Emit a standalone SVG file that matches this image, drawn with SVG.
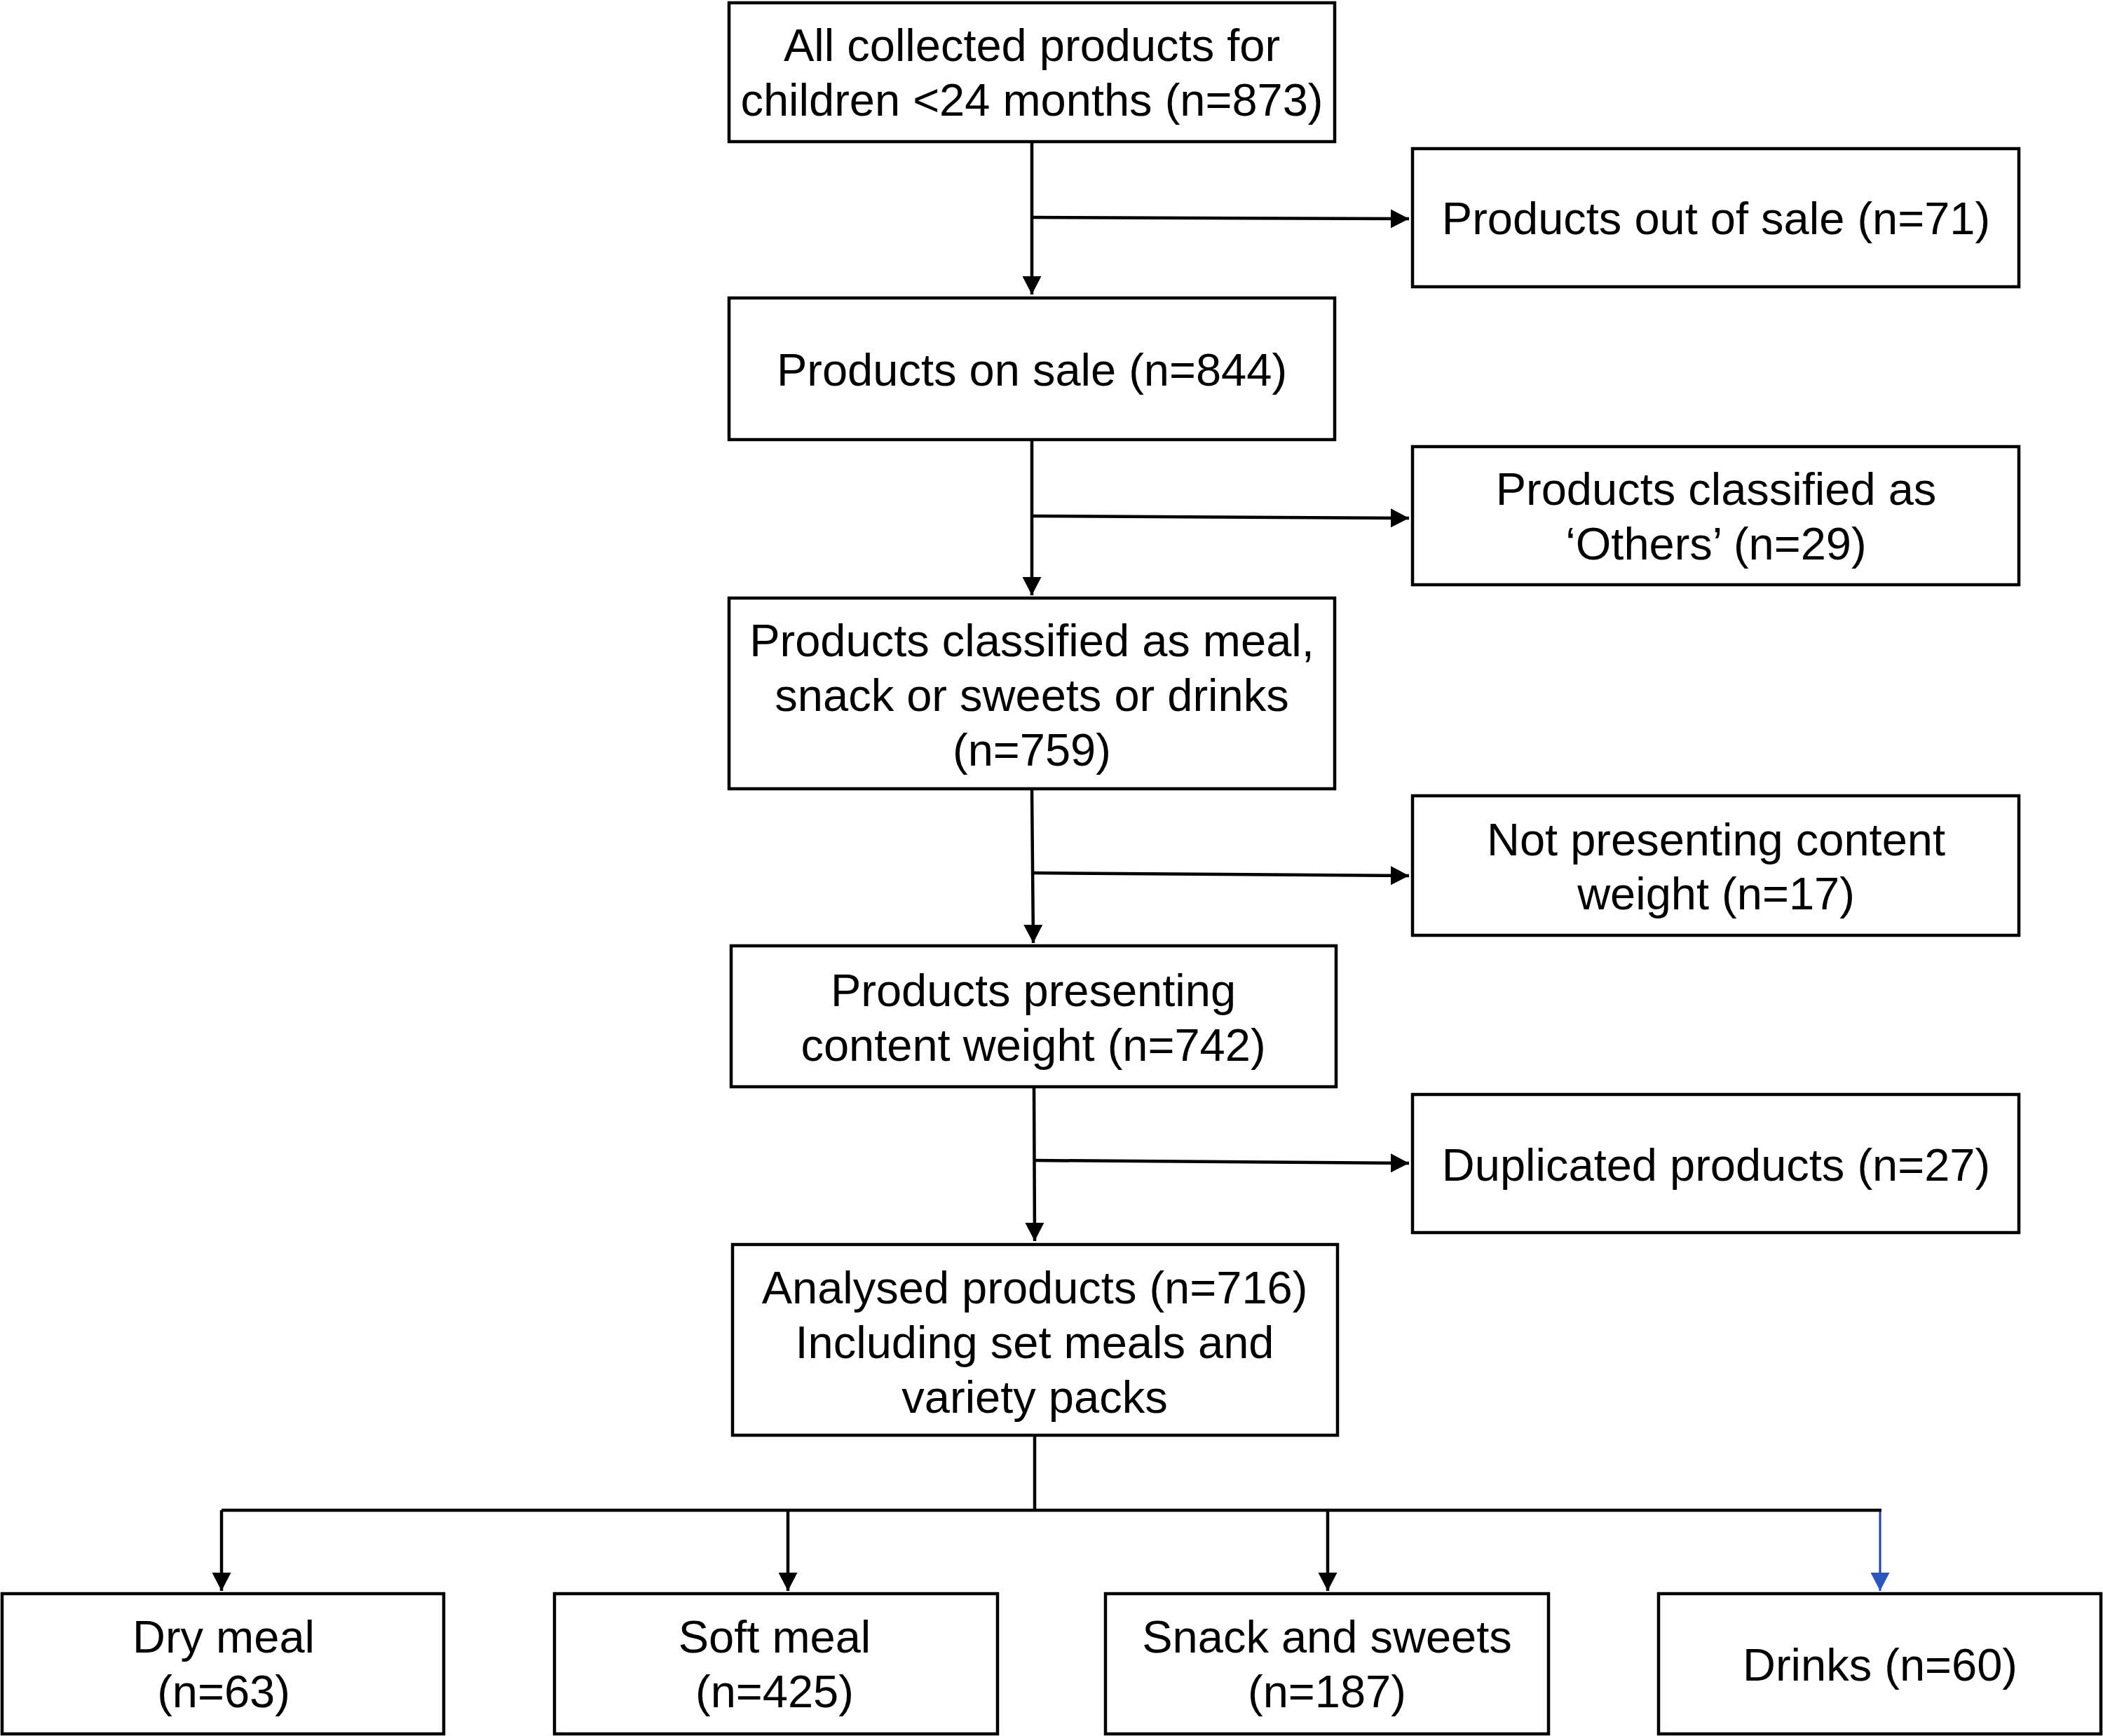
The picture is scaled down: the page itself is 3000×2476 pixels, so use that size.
<svg xmlns="http://www.w3.org/2000/svg" width="3000" height="2476" viewBox="0 0 3000 2476">
<defs>
<style>
.box{fill:#fff;stroke:#000;stroke-width:4.5}
.t{font-family:"Liberation Sans",Arial,sans-serif;font-size:65px;fill:#000;text-anchor:middle}
.ln{fill:none;stroke:#000;stroke-width:4.5}
.blue{fill:none;stroke:#1a3fb0;stroke-width:3}
</style>
<marker id="ah" markerUnits="userSpaceOnUse" markerWidth="26" markerHeight="27" refX="26" refY="13.5" orient="auto" viewBox="0 0 26 27">
<path d="M0,0 L26,13.5 L0,27 z" fill="#000"/>
</marker>
<marker id="ahb" markerUnits="userSpaceOnUse" markerWidth="26" markerHeight="27" refX="26" refY="13.5" orient="auto" viewBox="0 0 26 27">
<path d="M0,0 L26,13.5 L0,27 z" fill="#2b56c0"/>
</marker>
</defs>
<rect width="3000" height="2476" fill="#fff"/>
<g id="connectors">
<path class="ln" d="M1472,202 V420" marker-end="url(#ah)"/>
<path class="ln" d="M1472,310 L2010,312" marker-end="url(#ah)"/>
<path class="ln" d="M1472,627 V849" marker-end="url(#ah)"/>
<path class="ln" d="M1472,736 L2010,739" marker-end="url(#ah)"/>
<path class="ln" d="M1472,1125 L1474,1345" marker-end="url(#ah)"/>
<path class="ln" d="M1473,1245 L2010,1249" marker-end="url(#ah)"/>
<path class="ln" d="M1475,1550 L1476,1770" marker-end="url(#ah)"/>
<path class="ln" d="M1475,1655 L2010,1659" marker-end="url(#ah)"/>
<path class="ln" d="M1476,2047 V2154"/>
<path class="ln" d="M316,2154 H2684"/>
<path class="ln" d="M316,2154 V2269" marker-end="url(#ah)"/>
<path class="ln" d="M1124,2154 V2269" marker-end="url(#ah)"/>
<path class="ln" d="M1894,2154 V2269" marker-end="url(#ah)"/>
<path class="blue" d="M2682,2156 V2269" marker-end="url(#ahb)"/>
</g>
<g id="n1"><rect class="box" x="1040" y="4" width="864" height="198"/>
<text class="t" x="1472" y="87">All collected products for</text>
<text class="t" x="1472" y="165">children &lt;24 months (n=873)</text></g>
<g id="n2"><rect class="box" x="1040" y="425" width="864" height="202"/>
<text class="t" x="1472" y="550">Products on sale (n=844)</text></g>
<g id="n3"><rect class="box" x="1040" y="853" width="864" height="272"/>
<text class="t" x="1472" y="936">Products classified as meal,</text>
<text class="t" x="1472" y="1014">snack or sweets or drinks</text>
<text class="t" x="1472" y="1092">(n=759)</text></g>
<g id="n4"><rect class="box" x="1043" y="1349" width="863" height="201"/>
<text class="t" x="1474" y="1435">Products presenting</text>
<text class="t" x="1474" y="1513">content weight (n=742)</text></g>
<g id="n5"><rect class="box" x="1045" y="1775" width="863" height="272"/>
<text class="t" x="1476" y="1859">Analysed products (n=716)</text>
<text class="t" x="1476" y="1937">Including set meals and</text>
<text class="t" x="1476" y="2015">variety packs</text></g>
<g id="r1"><rect class="box" x="2015" y="212" width="865" height="197"/>
<text class="t" x="2448" y="334">Products out of sale (n=71)</text></g>
<g id="r2"><rect class="box" x="2015" y="637" width="865" height="197"/>
<text class="t" x="2448" y="720">Products classified as</text>
<text class="t" x="2448" y="798">‘Others’ (n=29)</text></g>
<g id="r3"><rect class="box" x="2015" y="1135" width="865" height="199"/>
<text class="t" x="2448" y="1220">Not presenting content</text>
<text class="t" x="2448" y="1297">weight (n=17)</text></g>
<g id="r4"><rect class="box" x="2015" y="1561" width="865" height="197"/>
<text class="t" x="2448" y="1684">Duplicated products (n=27)</text></g>
<g id="b1"><rect class="box" x="3" y="2273" width="630" height="200"/>
<text class="t" x="319" y="2357">Dry meal</text>
<text class="t" x="319" y="2435">(n=63)</text></g>
<g id="b2"><rect class="box" x="791" y="2273" width="632" height="200"/>
<text class="t" x="1105" y="2357">Soft meal</text>
<text class="t" x="1105" y="2435">(n=425)</text></g>
<g id="b3"><rect class="box" x="1577" y="2273" width="632" height="200"/>
<text class="t" x="1893" y="2357">Snack and sweets</text>
<text class="t" x="1893" y="2435">(n=187)</text></g>
<g id="b4"><rect class="box" x="2366" y="2273" width="631" height="200"/>
<text class="t" x="2682" y="2397">Drinks (n=60)</text></g>
</svg>
